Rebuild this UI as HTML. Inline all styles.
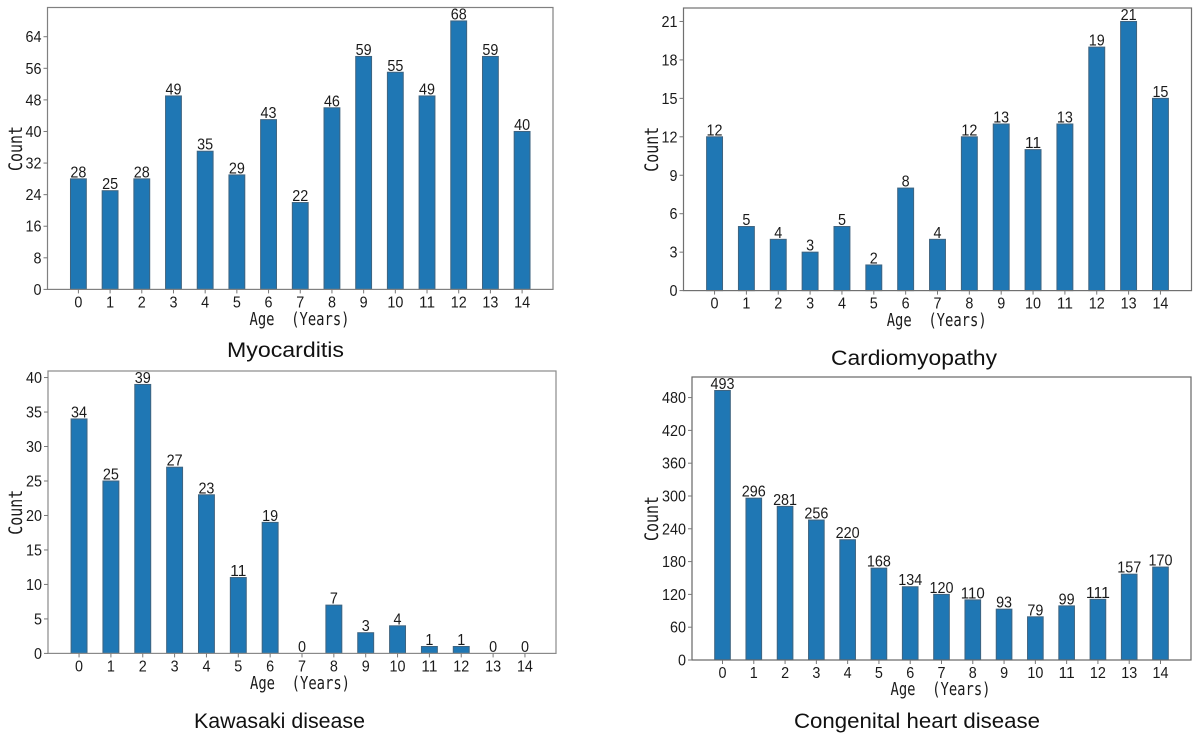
<!DOCTYPE html>
<html lang="en">
<head>
<meta charset="utf-8">
<title>Count by age for four pediatric heart conditions</title>
<style>
html,body{margin:0;padding:0;background:#fff;width:1200px;height:733px;overflow:hidden}
svg{display:block}
text{fill:#1a1a1a}
.num{font-family:"Liberation Sans",sans-serif;font-size:15.5px}
.axis-title{font-family:"DejaVu Sans Mono","Liberation Mono",monospace;font-size:17.5px;white-space:pre}
.count-title{font-family:"DejaVu Sans Mono","Liberation Mono",monospace;font-size:19px}
.panel-title{font-family:"Liberation Sans",sans-serif;font-size:21.5px;fill:#111}
</style>
</head>
<body>
<svg id="figure" width="1200" height="733" viewBox="0 0 1200 733" xmlns="http://www.w3.org/2000/svg"></svg>
<script>
const ages = [0,1,2,3,4,5,6,7,8,9,10,11,12,13,14];

const myocarditisCounts = [28,25,28,49,35,29,43,22,46,59,55,49,68,59,40];
const cardiomyopathyCounts = [12,5,4,3,5,2,8,4,12,13,11,13,19,21,15];
const kawasakiCounts = [34,25,39,27,23,11,19,0,7,3,4,1,1,0,0];
const congenitalCounts = [493,296,281,256,220,168,134,120,110,93,79,99,111,157,170];

const myocarditisTicks = [0,8,16,24,32,40,48,56,64];
const cardiomyopathyTicks = [0,3,6,9,12,15,18,21];
const kawasakiTicks = [0,5,10,15,20,25,30,35,40];
const congenitalTicks = [0,60,120,180,240,300,360,420,480];

const panels = [
  {key:'myocarditis', title:'Myocarditis', values:myocarditisCounts, ticks:myocarditisTicks,
   box:{l:47.5,r:553,t:7.5,b:289.4}, titleX:285.5, titleY:357, titleLen:117, xTitleX:299.5, xTitleY:325, yTitleX:22, frame:'#808080'},
  {key:'cardiomyopathy', title:'Cardiomyopathy', values:cardiomyopathyCounts, ticks:cardiomyopathyTicks,
   box:{l:683.5,r:1191.5,t:8,b:290.6}, titleX:914, titleY:365, titleLen:166, xTitleX:936.7, xTitleY:326, yTitleX:658, frame:'#707070'},
  {key:'kawasaki', title:'Kawasaki disease', values:kawasakiCounts, ticks:kawasakiTicks,
   box:{l:48,r:556,t:371,b:653.4}, titleX:279.5, titleY:728, titleLen:171, xTitleX:300, xTitleY:689, yTitleX:22, frame:'#8a8a8a'},
  {key:'congenital', title:'Congenital heart disease', values:congenitalCounts, ticks:congenitalTicks,
   box:{l:692,r:1191,t:377,b:660}, titleX:917, titleY:728, titleLen:246, xTitleX:940.5, xTitleY:695, yTitleX:658, frame:'#666666'}
];

const NS = 'http://www.w3.org/2000/svg';
const figure = document.getElementById('figure');
const DIGIT_WIDTH = 8;

function make(parent, tag, attrs, content) {
  const el = document.createElementNS(NS, tag);
  for (const k in attrs) el.setAttribute(k, attrs[k]);
  if (content !== undefined) el.textContent = content;
  parent.appendChild(el);
  return el;
}

function numberText(parent, x, y, anchor, str) {
  return make(parent, 'text', {
    class:'num', x:x, y:y, 'text-anchor':anchor,
    textLength:str.length * DIGIT_WIDTH, lengthAdjust:'spacingAndGlyphs'
  }, str);
}

function xAxisFn(box) {
  const lo = -0.975, hi = 14.975;
  return v => box.l + (v - lo) / (hi - lo) * (box.r - box.l);
}
function yAxisFn(box, values) {
  const top = Math.max.apply(null, values) * 1.05;
  return v => box.b - (v / top) * (box.b - box.t);
}

panels.forEach(p => {
  const x = xAxisFn(p.box), y = yAxisFn(p.box, p.values);
  const step = x(1) - x(0);

  const g = make(figure, 'g', {});
  
  

  p.values.forEach((v, i) => {
    const bar = make(g, 'rect', {
      x: x(ages[i]) - step * 0.25, y: y(v),
      width: step * 0.5, height: Math.max(0, p.box.b - y(v)),
      fill: '#1f77b4', stroke: '#3f6480', 'stroke-width': 1
    });
    
    

    const label = numberText(g, x(ages[i]), y(v) - 1.5, 'middle', String(v));
    
    
  });

  const frame = make(g, 'rect', {
    x:p.box.l, y:p.box.t, width:p.box.r-p.box.l, height:p.box.b-p.box.t,
    fill:'none', stroke:p.frame, 'stroke-width':1.2
  });
  
  

  ages.forEach(a => {
    const tick = make(g, 'line', {x1:x(a), x2:x(a), y1:p.box.b, y2:p.box.b+4, stroke:'#777', 'stroke-width':1});
    
    

    const label = numberText(g, x(a), p.box.b+18, 'middle', String(a));
    
    
  });

  p.ticks.forEach(t => {
    const tick = make(g, 'line', {x1:p.box.l-4, x2:p.box.l, y1:y(t), y2:y(t), stroke:'#777', 'stroke-width':1});
    
    

    const label = numberText(g, p.box.l-6, y(t)+5.5, 'end', String(t));
    
    
  });

  const xTitle = make(g, 'text', {
    class:'axis-title', x:p.xTitleX, y:p.xTitleY, 'text-anchor':'middle',
    textLength:100, lengthAdjust:'spacingAndGlyphs'
  }, 'Age  (Years)');
  
  

  const my = (p.box.t+p.box.b)/2;
  const yTitle = make(g, 'text', {
    class:'count-title', x:p.yTitleX, y:my, 'text-anchor':'middle',
    transform:'rotate(-90 '+p.yTitleX+' '+my+')', textLength:45, lengthAdjust:'spacingAndGlyphs'
  }, 'Count');
  
  

  const title = make(g, 'text', {
    class:'panel-title', x:p.titleX, y:p.titleY, 'text-anchor':'middle',
    textLength:p.titleLen, lengthAdjust:'spacingAndGlyphs'
  }, p.title);
  
  
});
</script>
</body>
</html>
